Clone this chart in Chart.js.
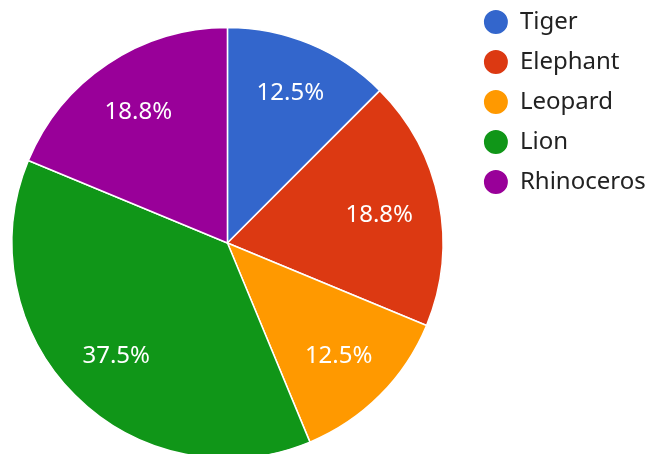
<!DOCTYPE html>
<html>
<head>
<meta charset="utf-8">
<script src="https://cdn.jsdelivr.net/npm/chart.js@4"></script>
<style>
  html, body { margin: 0; padding: 0; overflow: hidden; background: #fff; }
  #wrap { width: 670px; height: 486px; position: relative; margin-left: -12.7px; }
</style>
</head>
<body>
<div id="wrap"><canvas id="myChart"></canvas></div>
<script>
const animals = ['Tiger', 'Elephant', 'Leopard', 'Lion', 'Rhinoceros'];
const counts = [2, 3, 2, 6, 3];
const colors = ['#3366cc', '#dc3912', '#ff9900', '#109618', '#990099'];

// percentage label inside each slice; box pushed out until its far corner hits ~0.883 of the radius
const sliceLabels = {
    id: 'sliceLabels',
    afterDatasetsDraw(chart) {
        const ctx = chart.ctx;
        const meta = chart.getDatasetMeta(0);
        const total = counts.reduce((acc, item) => acc + item, 0);
        ctx.save();
        ctx.font = '24px "Noto Sans"';
        ctx.fillStyle = '#ffffff';
        ctx.textAlign = 'center';
        ctx.textBaseline = 'middle';
        meta.data.forEach((arc, i) => {
            const p = arc.getProps(['x', 'y', 'startAngle', 'endAngle', 'outerRadius']);
            const mid = (p.startAngle + p.endAngle) / 2;
            const pct = (counts[i] / total * 100).toFixed(1) + '%';
            const w = ctx.measureText(pct).width;
            const h = 24;
            const d = p.outerRadius * 0.883;
            const k = Math.abs(Math.cos(mid)) * w + Math.abs(Math.sin(mid)) * h;
            const r = (-k + Math.sqrt(k * k - (w * w + h * h) + 4 * d * d)) / 2;
            ctx.fillText(pct, p.x + Math.cos(mid) * r, p.y + Math.sin(mid) * r + 2);
        });
        ctx.restore();
    }
};

let myChart = new Chart(document.getElementById('myChart'), {
    type: 'pie',
    data: {
        labels: animals,
        datasets: [{
            data: counts,
            backgroundColor: colors,
            borderColor: '#ffffff',
            borderWidth: 1.5,
            radius: 215.5
        }]
    },
    options: {
        responsive: true,
        maintainAspectRatio: false,
        animation: false,
        layout: { padding: { left: 0, right: 1.3, top: -6, bottom: 0 } },
        plugins: {
            tooltip: { enabled: false },
            legend: {
                position: 'right',
                align: 'start',
                labels: {
                    usePointStyle: true,
                    pointStyle: 'circle',
                    boxWidth: 24,
                    boxHeight: 18,
                    padding: 16,
                    color: '#222222',
                    font: { family: '"Noto Sans"', size: 24 }
                }
            }
        }
    },
    plugins: [sliceLabels]
});
</script>
</body>
</html>
